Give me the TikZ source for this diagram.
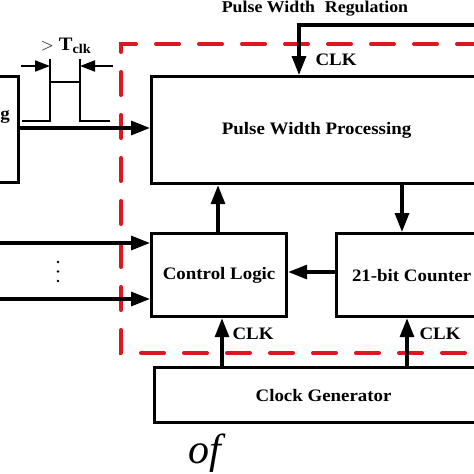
\documentclass[tikz,border=0pt]{standalone}
\usepackage{fontspec}
\setmainfont{Liberation Serif}
\newfontfamily\lbl{Liberation Serif}[FakeStretch=1.08]
\usetikzlibrary{arrows.meta}
\definecolor{dred}{RGB}{222,22,32}
\tikzset{
  box/.style={draw, line width=3.2pt, anchor=north west, inner sep=0pt},
  txt/.style={font=\lbl\bfseries\fontsize{17.5}{20}\selectfont, inner sep=0pt},
  arr/.style={line width=3.2pt, -{Triangle[length=19pt,width=14pt]}},
  thin arr/.style={line width=2pt, -{Triangle[length=15pt,width=11pt]}},
  wave/.style={line width=2.6pt},
  dotmark/.style={fill=black},
  reddash/.style={draw=dred, line width=4pt, line cap=round, dash pattern=on 23pt off 20pt}
}
\begin{document}
\begin{tikzpicture}[x=1pt,y=-1pt]
\useasboundingbox (0,0) rectangle (474,474);
\clip (0,0) rectangle (474,474);
\fill[white] (0,0) rectangle (474,474);
% boxes
\node[box, minimum width=120pt, minimum height=106pt] (lb) at (-103,75) {};
\node[box, minimum width=330pt, minimum height=107pt] (pwp) at (150,75) {};
\node[box, minimum width=135pt, minimum height=83pt] (cl) at (150,232) {};
\node[box, minimum width=150pt, minimum height=83pt] (cnt) at (335,232) {};
\node[box, minimum width=338pt, minimum height=55pt] (cg) at (153,366) {};
% texts
\node[txt, anchor=east] (tlb) at (10,117) {g};
\node[txt] (tpwp) at (pwp.center) {Pulse Width Processing};
\node[txt] (tcl) at (cl.center) {Control Logic};
\node[txt] (tcnt) at (cnt.center) {21-bit Counter};
\node[txt] (tcg) at (cg.center) {Clock Generator};
\node[txt, font=\lbl\bfseries\fontsize{16.5}{18}\selectfont] (treg) at (315,9) {Pulse Width\hspace{0.6em}Regulation};
\node[txt] (clk1) at (336,60) {CLK};
\node[txt] (clk2) at (253,334) {CLK};
\node[txt] (clk3) at (440,334) {CLK};
\node[txt] (tclk) at (66,46) {\fontsize{19}{20}\selectfont$>$ T\textsubscript{clk}};
\node[font=\fontsize{42}{44}\selectfont\itshape, inner sep=0pt] (of) at (205,453) {of};
% vertical ellipsis between the inputs
\fill[dotmark] (58,262) circle (1.3);
\fill[dotmark] (58,271.5) circle (1.3);
\fill[dotmark] (58,281) circle (1.3);
% red dashed boundary
\draw[reddash] (480,44) -- (121,44) -- (121,353) -- (480,353);
% helper coordinates
\coordinate (ya) at (0,128);
\coordinate (yb) at (0,272);
\coordinate (xa) at (218,0);
\coordinate (xb) at (402,0);
\coordinate (xc) at (222,0);
\coordinate (xd) at (407,0);
\coordinate (xr) at (299,0);
\coordinate (reg) at (480,25);
\coordinate (in1) at (-5,243);
\coordinate (in2) at (-5,299);
% connectors
\draw[arr] (lb.east |- ya) -- (pwp.west |- ya);
\draw[arr] (reg) -| (pwp.north -| xr);
\draw[arr] (cl.north -| xa) -- (pwp.south -| xa);
\draw[arr] (pwp.south -| xb) -- (cnt.north -| xb);
\draw[arr] (cnt.west |- yb) -- (cl.east |- yb);
\draw[arr] (cg.north -| xc) -- (cl.south -| xc);
\draw[arr] (cg.north -| xd) -- (cnt.south -| xd);
\draw[arr] (in1) -- (cl.west |- in1);
\draw[arr] (in2) -- (cl.west |- in2);
% pulse waveform
\coordinate (p0) at (22,121);
\coordinate (p1) at (50,121);
\coordinate (p2) at (50,82);
\coordinate (p3) at (80,82);
\coordinate (p4) at (80,121);
\coordinate (p5) at (110,121);
\coordinate (e1) at (50,59);
\coordinate (e2) at (80,59);
\draw[wave] (p0) -- (p1) -- (p2) -- (p3) -- (p4) -- (p5);
\draw[line width=2pt] (e1) -- (p2);
\draw[line width=2pt] (e2) -- (p3);
\coordinate (d1) at (21,66);
\coordinate (d2) at (113,66);
\draw[thin arr] (d1) -- (e1 |- d1);
\draw[thin arr] (d2) -- (e2 |- d2);
\end{tikzpicture}
\end{document}
